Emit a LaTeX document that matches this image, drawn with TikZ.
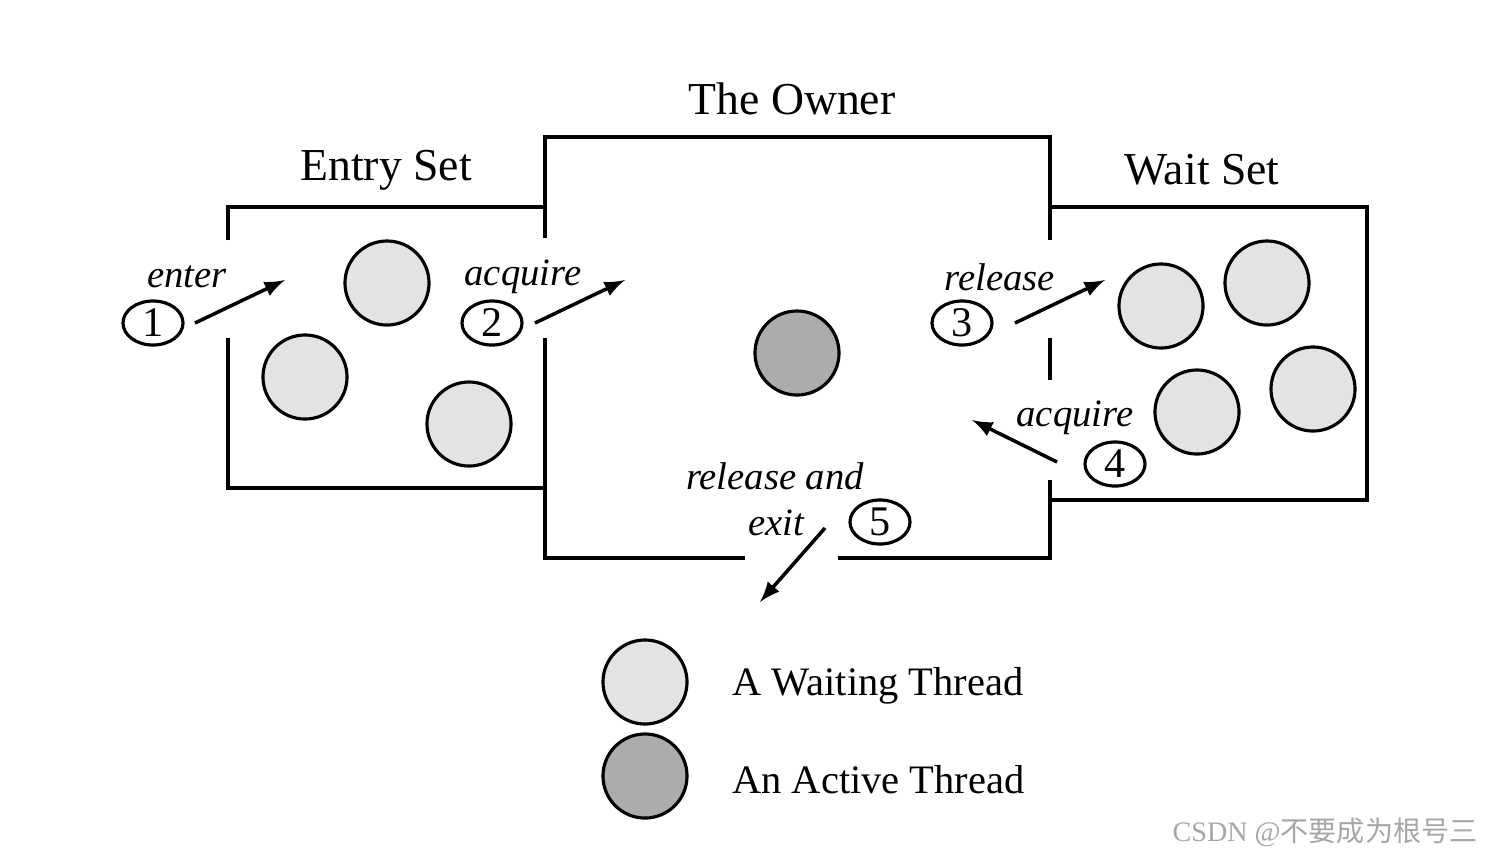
\documentclass[tikz,border=0pt]{standalone}
\usepackage{fontspec}
\usetikzlibrary{shapes.geometric}
\setmainfont{Liberation Serif}
\newfontfamily\cjkf{Noto Sans CJK SC}
\begin{document}
\begin{tikzpicture}[x=0.01cm,y=-0.01cm,
  box/.style={line width=1.3pt},
  wait/.style={circle,draw,line width=0.9pt,fill=gray!22,minimum size=0.84cm,inner sep=0},
  act/.style={circle,draw,line width=0.9pt,fill=gray!65,minimum size=0.84cm,inner sep=0},
  num/.style={ellipse,draw,line width=0.9pt,minimum width=0.6cm,minimum height=0.44cm,inner sep=0,font=\fontsize{12}{14}\selectfont},
  lab/.style={font=\fontsize{11}{13}\selectfont\itshape},
  ttl/.style={font=\fontsize{13}{16}\selectfont},
  leg/.style={font=\fontsize{11.5}{14}\selectfont},
  arr/.style={-latex,line width=1pt}]
\useasboundingbox (0,0) rectangle (1494,860);
% boxes
\draw[box] (228,240)--(228,207)--(545,207);
\draw[box] (228,338)--(228,488)--(545,488);
\draw[box] (545,238)--(545,137)--(1050,137)--(1050,240);
\draw[box] (545,338)--(545,558)--(745,558);
\draw[box] (838,558)--(1050,558)--(1050,480);
\draw[box] (1050,338)--(1050,380);
\draw[box] (1050,207)--(1367,207)--(1367,500)--(1050,500);
% titles
\node[ttl] (towner) at (792,99) {The Owner};
\node[ttl] (tentry) at (386,170) {Entry Set};
\node[ttl] (twait) at (1202,170) {Wait Set};
% threads
\node[wait] (e1) at (387,283) {};
\node[wait] (e2) at (305,377) {};
\node[wait] (e3) at (469,424) {};
\node[act] (o1) at (797,353) {};
\node[wait] (w1) at (1161,306) {};
\node[wait] (w2) at (1267,283) {};
\node[wait] (w3) at (1197,412) {};
\node[wait] (w4) at (1313,389) {};
% numbers
\node[num] (n1) at (153,323) {1};
\node[num] (n2) at (492,323) {2};
\node[num] (n3) at (962,323) {3};
\node[num] (n4) at (1115,464) {4};
\node[num] (n5) at (880,522) {5};
% arrow endpoints
\coordinate (a1s) at (195,323); \coordinate (a1e) at (285,280);
\coordinate (a2s) at (535,323); \coordinate (a2e) at (625,280);
\coordinate (a3s) at (1015,323); \coordinate (a3e) at (1105,280);
\coordinate (a4s) at (1057,462); \coordinate (a4e) at (972,420);
\coordinate (a5s) at (825,528); \coordinate (a5e) at (760,602);
\draw[arr] (a1s)--(a1e);
\draw[arr] (a2s)--(a2e);
\draw[arr] (a3s)--(a3e);
\draw[arr] (a4s)--(a4e);
\draw[arr] (a5s)--(a5e);
% labels
\node[lab] (l1) at (187,277) {enter};
\node[lab] (l2) at (523,277) {acquire};
\node[lab] (l3) at (1000,277) {release};
\node[lab] (l4) at (1075,418) {acquire};
\node[lab] (l5) at (775,476) {release and};
\node[lab] (l6) at (776,523) {exit};
% legend
\node[wait] (lg1) at (645,682) {};
\node[act] (lg2) at (645,776) {};
\node[leg,anchor=west] (lt1) at (720,686) {A Waiting Thread};
\node[leg,anchor=west] (lt2) at (720,780) {An Active Thread};
\node[text=gray!70,anchor=east,font=\fontsize{8}{10}\selectfont] (wm) at (1490,832) {CSDN @{\cjkf 不要成为根号三}};
\end{tikzpicture}
\end{document}
